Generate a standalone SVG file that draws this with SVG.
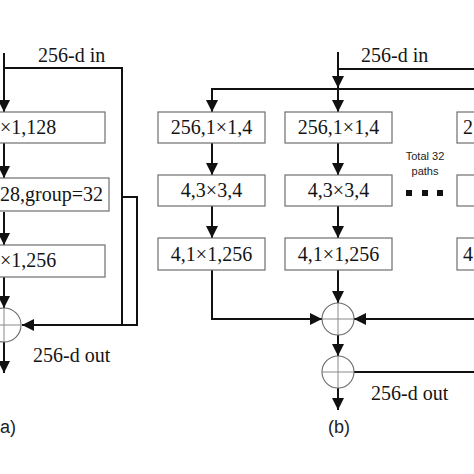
<svg xmlns="http://www.w3.org/2000/svg" width="474" height="474" viewBox="0 0 474 474">
<style>
.bg{fill:#ffffff}
.box{fill:#ffffff;stroke:#6e6e6e;stroke-width:1.2}
.t{font-family:"Liberation Serif","Times New Roman",serif;font-size:20px;fill:#141414}
.s{font-family:"Liberation Sans",Arial,sans-serif;fill:#222}
.ln{fill:none;stroke:#111;stroke-width:2}
.arr{fill:none;stroke:#111;stroke-width:2;marker-end:url(#ah)}
.sum{fill:#ffffff;stroke:#6a6a6a;stroke-width:1.1}
.cross{stroke:#8a8a8a;stroke-width:1}
.dot{fill:#111}
</style>
<defs>
<marker id="ah" markerUnits="userSpaceOnUse" markerWidth="12" markerHeight="12" viewBox="0 0 12 12" refX="12" refY="6" orient="auto">
<path d="M0,0 L12,6 L0,12 z" fill="#111"/>
</marker>
</defs>
<rect class="bg" x="0" y="0" width="474" height="474"/>

<g id="connectors">
<!-- (a) -->
<path class="arr" d="M4,53 V112"/>
<path class="ln" d="M4,68 H122 V325"/>
<path class="arr" d="M122,197 H137 V325 H22"/>
<path class="arr" d="M4,143 V178"/>
<path class="arr" d="M4,212 V245"/>
<path class="arr" d="M4,277 V308"/>
<path class="arr" d="M4,342 V373"/>
<!-- (b) -->
<path class="arr" d="M338,52 V88"/>
<path class="ln" d="M338,69 H474"/>
<path class="arr" d="M474,89 H212 V112"/>
<path class="arr" d="M338,89 V112"/>
<path class="arr" d="M212,143 V175"/>
<path class="arr" d="M212,206 V238"/>
<path class="arr" d="M212,270 V319 H322"/>
<path class="arr" d="M338,143 V175"/>
<path class="arr" d="M338,206 V238"/>
<path class="arr" d="M338,270 V303"/>
<path class="arr" d="M474,319 H354"/>
<path class="arr" d="M338,335 V356"/>
<path class="ln" d="M354,372 H474"/>
<path class="arr" d="M338,388 V410"/>
</g>

<!-- (a) nodes -->
<g id="a-box1"><rect class="box" x="-30" y="112" width="135" height="31"/><text class="t" x="0" y="134">×1,128</text></g>
<g id="a-box2"><rect class="box" x="-30" y="178" width="139" height="33"/><text class="t" x="0" y="201">28,group=32</text></g>
<g id="a-box3"><rect class="box" x="-30" y="245" width="135" height="32"/><text class="t" x="0" y="267">×1,256</text></g>
<g id="a-sum"><circle class="sum" cx="4" cy="325" r="17"/><line class="cross" x1="-13" y1="325" x2="21" y2="325"/><line class="cross" x1="4" y1="308" x2="4" y2="342"/></g>
<g id="a-labels">
<text class="t" x="38" y="62">256-d in</text>
<text class="t" x="33" y="362">256-d out</text>
<text class="s" x="0" y="433" font-size="18">a)</text>
</g>

<!-- (b) column 1 -->
<g id="b1-r1"><rect class="box" x="158" y="112" width="107" height="31"/><text class="t" x="211.5" y="134" text-anchor="middle">256,1×1,4</text></g>
<g id="b1-r2"><rect class="box" x="158" y="175" width="107" height="31"/><text class="t" x="211.5" y="197" text-anchor="middle">4,3×3,4</text></g>
<g id="b1-r3"><rect class="box" x="158" y="238" width="107" height="32"/><text class="t" x="211.5" y="261" text-anchor="middle">4,1×1,256</text></g>
<!-- (b) column 2 -->
<g id="b2-r1"><rect class="box" x="285" y="112" width="107" height="31"/><text class="t" x="338.5" y="134" text-anchor="middle">256,1×1,4</text></g>
<g id="b2-r2"><rect class="box" x="285" y="175" width="107" height="31"/><text class="t" x="338.5" y="197" text-anchor="middle">4,3×3,4</text></g>
<g id="b2-r3"><rect class="box" x="285" y="238" width="107" height="32"/><text class="t" x="338.5" y="261" text-anchor="middle">4,1×1,256</text></g>
<!-- (b) column 3 (cut) -->
<g id="b3-r1"><rect class="box" x="457" y="112" width="107" height="31"/><text class="t" x="463" y="134">2</text></g>
<g id="b3-r2"><rect class="box" x="457" y="175" width="107" height="31"/></g>
<g id="b3-r3"><rect class="box" x="457" y="238" width="107" height="32"/><text class="t" x="463" y="261">4</text></g>

<g id="b-sum1"><circle class="sum" cx="338" cy="319" r="16"/><line class="cross" x1="322" y1="319" x2="354" y2="319"/><line class="cross" x1="338" y1="303" x2="338" y2="335"/></g>
<g id="b-sum2"><circle class="sum" cx="338" cy="372" r="16"/><line class="cross" x1="322" y1="372" x2="354" y2="372"/><line class="cross" x1="338" y1="356" x2="338" y2="388"/></g>

<g id="b-labels">
<text class="t" x="361" y="62">256-d in</text>
<text class="t" x="371" y="400">256-d out</text>
<text class="s" x="425" y="160" font-size="11" text-anchor="middle">Total 32</text>
<text class="s" x="425" y="175" font-size="11" text-anchor="middle">paths</text>
<rect class="dot" x="406" y="190" width="6" height="6"/>
<rect class="dot" x="422" y="190" width="6" height="6"/>
<rect class="dot" x="437" y="190" width="6" height="6"/>
<text class="s" x="339" y="433" font-size="18" text-anchor="middle">(b)</text>
</g>
</svg>
